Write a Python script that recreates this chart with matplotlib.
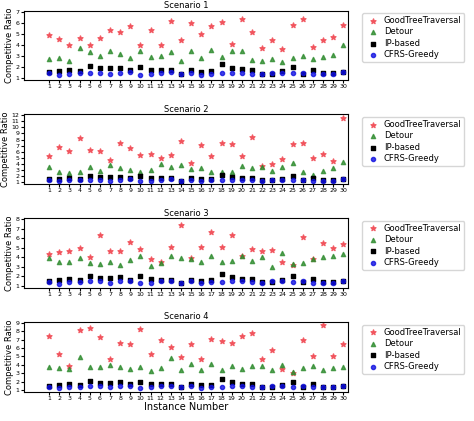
import numpy as np
import matplotlib.pyplot as plt

inst = np.arange(1, 31)

ip_based = [1.5, 1.6, 1.7, 1.6, 2.05, 1.85, 1.85, 1.9, 1.65, 2.0, 1.7, 1.65, 1.65, 1.3, 1.65,
            1.55, 1.6, 2.25, 1.9, 1.75, 1.7, 1.35, 1.35, 1.6, 2.0, 1.35, 1.7, 1.4, 1.4, 1.5]
cfrs = [1.4, 1.2, 1.35, 1.4, 1.45, 1.45, 1.3, 1.45, 1.5, 1.25, 1.3, 1.45, 1.5, 1.3, 1.45,
        1.25, 1.35, 1.4, 1.45, 1.45, 1.35, 1.3, 1.45, 1.45, 1.4, 1.45, 1.3, 1.3, 1.3, 1.5]

gtt_1 = [4.85, 4.5, 3.95, 4.6, 4.0, 4.6, 5.35, 5.15, 5.65, 4.0, 5.35, 3.95, 6.15, 4.45, 5.95,
         4.95, 5.7, 6.1, 4.1, 6.3, 5.15, 3.7, 4.4, 3.6, 5.8, 6.35, 3.8, 4.4, 4.65, 5.8]
det_1 = [2.7, 2.75, 2.55, 3.65, 3.3, 2.95, 3.4, 3.15, 2.8, 3.45, 2.85, 3.0, 3.35, 2.5, 3.45,
         2.75, 3.5, 2.85, 3.4, 3.45, 2.6, 2.5, 2.7, 2.45, 2.8, 3.0, 2.7, 2.85, 3.1, 4.0]
gtt_2 = [5.3, 6.8, 6.2, 8.3, 6.25, 6.1, 4.6, 7.4, 6.7, 5.5, 5.6, 4.95, 5.55, 7.8, 4.15,
         7.15, 5.25, 7.5, 7.2, 5.35, 8.4, 3.7, 4.0, 4.85, 7.3, 7.5, 4.95, 5.7, 4.55, 11.5]
det_2 = [3.45, 2.7, 2.6, 2.65, 3.45, 2.8, 3.8, 3.35, 3.05, 2.7, 3.05, 4.0, 3.55, 3.85, 3.2,
         3.3, 2.75, 2.7, 2.65, 3.75, 3.3, 3.6, 2.85, 3.5, 4.1, 2.75, 2.3, 2.8, 3.35, 4.3]
gtt_3 = [4.3, 4.55, 4.65, 5.0, 4.05, 6.3, 4.7, 4.65, 5.6, 4.85, 3.85, 3.5, 5.1, 7.45, 3.95,
         5.1, 6.7, 5.1, 6.3, 4.15, 4.9, 4.65, 4.8, 3.55, 3.2, 6.15, 3.8, 5.55, 5.0, 5.4]
det_3 = [3.95, 3.45, 3.55, 3.9, 3.35, 3.25, 3.55, 3.15, 3.7, 4.1, 3.05, 3.4, 4.1, 3.9, 3.8,
         3.45, 4.1, 3.55, 3.65, 4.1, 3.65, 4.05, 3.0, 4.4, 3.3, 3.35, 3.8, 4.0, 4.1, 4.3]
gtt_4 = [7.5, 5.3, 3.9, 8.2, 8.45, 7.35, 4.65, 6.6, 6.5, 8.25, 5.25, 6.95, 6.15, 4.9, 6.5,
         4.65, 7.15, 6.85, 6.6, 7.4, 7.85, 4.7, 5.8, 3.45, 3.0, 6.95, 5.05, 8.8, 5.1, 6.5]
det_4 = [3.75, 3.6, 3.5, 4.95, 3.7, 3.7, 4.0, 3.75, 3.55, 3.7, 3.2, 3.6, 4.8, 3.35, 4.15,
         3.4, 4.05, 3.4, 3.8, 3.5, 3.8, 3.8, 3.4, 4.0, 3.1, 3.65, 3.8, 3.4, 3.6, 3.7]

scenarios = [("Scenario 1", gtt_1, det_1, 7),
             ("Scenario 2", gtt_2, det_2, 12),
             ("Scenario 3", gtt_3, det_3, 8),
             ("Scenario 4", gtt_4, det_4, 9)]

fig, axes = plt.subplots(4, 1, figsize=(4.74, 4.21), dpi=100)
fig.subplots_adjust(left=0.05, right=0.735, top=0.975, bottom=0.07, hspace=0.5)

for ax, (title, gtt, det, ymax) in zip(axes, scenarios):
    ax.scatter(inst, gtt, marker='*', color='#f0454f', s=14, alpha=0.8, label='GoodTreeTraversal')
    ax.scatter(inst, det, marker='^', color='#2e8b2e', s=9, alpha=0.8, label='Detour')
    ax.scatter(inst, ip_based, marker='s', color='black', s=9, label='IP-based')
    ax.scatter(inst, cfrs, marker='o', color='#1010e0', s=9, alpha=0.8, label='CFRS-Greedy')
    ax.set_title(title, fontsize=6, pad=2)
    ax.set_xlim(-1.5, 30.5)
    ax.set_ylim(0.8, ymax + 0.1)
    ax.set_xticks(inst)
    ax.set_yticks(range(1, ymax + 1))
    ax.tick_params(labelsize=4.5, length=2, pad=1)
    ax.set_ylabel("Competitive Ratio", fontsize=6, labelpad=1)
    ax.legend(loc='upper left', bbox_to_anchor=(1.03, 1.02), fontsize=6, frameon=True,
              handletextpad=0.3, borderpad=0.3, labelspacing=0.3)

axes[-1].set_xlabel("Instance Number", fontsize=7, labelpad=1)
fig.savefig("out.png")
